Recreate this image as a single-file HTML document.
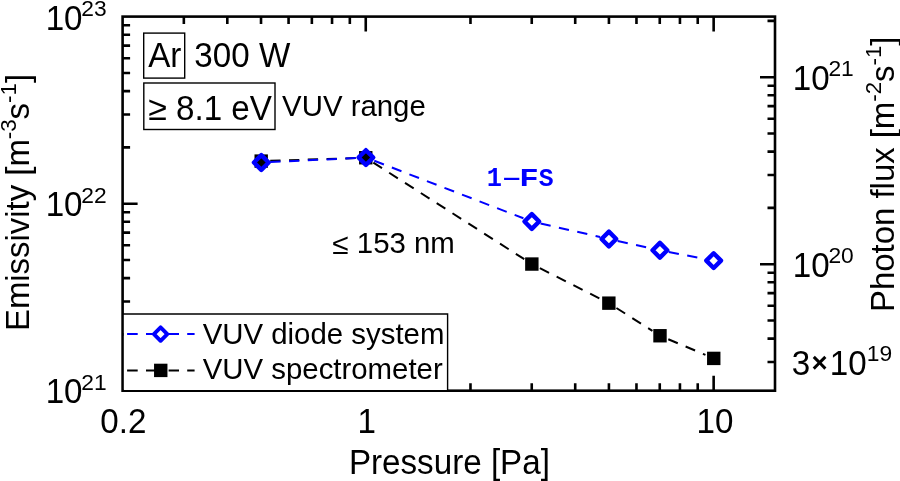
<!DOCTYPE html>
<html><head><meta charset="utf-8"><title>Emissivity vs Pressure</title>
<style>html,body{margin:0;padding:0;background:#fff;}svg{display:block;}text{font-variant-ligatures:none;font-kerning:none;}</style></head>
<body><svg width="900" height="481" viewBox="0 0 900 481">
<rect width="900" height="481" fill="#fff"/>
<path d="M365.75 390.70V375.70M365.75 16.60V31.60M713.65 390.70V375.70M713.65 16.60V31.60M183.84 390.70V383.20M183.84 16.60V24.10M227.31 390.70V383.20M227.31 16.60V24.10M261.02 390.70V383.20M261.02 16.60V24.10M288.57 390.70V383.20M288.57 16.60V24.10M311.86 390.70V383.20M311.86 16.60V24.10M332.04 390.70V383.20M332.04 16.60V24.10M349.83 390.70V383.20M349.83 16.60V24.10M470.48 390.70V383.20M470.48 16.60V24.10M531.74 390.70V383.20M531.74 16.60V24.10M575.21 390.70V383.20M575.21 16.60V24.10M608.92 390.70V383.20M608.92 16.60V24.10M636.47 390.70V383.20M636.47 16.60V24.10M659.76 390.70V383.20M659.76 16.60V24.10M679.94 390.70V383.20M679.94 16.60V24.10M697.73 390.70V383.20M697.73 16.60V24.10M122.60 203.70H137.60M122.60 334.41H130.10M122.60 301.48H130.10M122.60 278.11H130.10M122.60 259.99H130.10M122.60 245.19H130.10M122.60 232.67H130.10M122.60 221.82H130.10M122.60 212.26H130.10M122.60 147.41H130.10M122.60 114.48H130.10M122.60 91.11H130.10M122.60 72.99H130.10M122.60 58.19H130.10M122.60 45.67H130.10M122.60 34.82H130.10M122.60 25.26H130.10M775.00 264.20H760.00M775.00 77.20H760.00M775.00 361.98H767.50M775.00 338.61H767.50M775.00 320.49H767.50M775.00 305.69H767.50M775.00 293.17H767.50M775.00 282.32H767.50M775.00 272.76H767.50M775.00 207.91H767.50M775.00 174.98H767.50M775.00 151.61H767.50M775.00 133.49H767.50M775.00 118.69H767.50M775.00 106.17H767.50M775.00 95.32H767.50M775.00 85.76H767.50M775.00 20.91H767.50" stroke="#000" stroke-width="2.6" fill="none"/>
<rect x="122.60" y="16.60" width="652.40" height="374.10" stroke="#000" stroke-width="2.6" fill="none"/>
<path d="M270.20 160.81L356.75 158.04" fill="none" stroke="#000" stroke-width="2.0" stroke-dasharray="10.3 8.5"/>
<path d="M373.33 162.60L524.27 259.20" fill="none" stroke="#000" stroke-width="2.0" stroke-dasharray="10.3 8.5"/>
<path d="M539.87 268.12L600.83 299.08" fill="none" stroke="#000" stroke-width="2.0" stroke-dasharray="10.3 8.5"/>
<path d="M616.44 307.99L652.41 330.91" fill="none" stroke="#000" stroke-width="2.0" stroke-dasharray="10.3 8.5"/>
<path d="M668.29 339.24L705.46 354.91" fill="none" stroke="#000" stroke-width="2.0" stroke-dasharray="10.3 8.5"/>
<rect x="254.50" y="154.40" width="13.4" height="13.4" fill="#000"/>
<rect x="359.05" y="151.05" width="13.4" height="13.4" fill="#000"/>
<rect x="525.15" y="257.35" width="13.4" height="13.4" fill="#000"/>
<rect x="602.15" y="296.45" width="13.4" height="13.4" fill="#000"/>
<rect x="653.30" y="329.05" width="13.4" height="13.4" fill="#000"/>
<rect x="707.05" y="351.70" width="13.4" height="13.4" fill="#000"/>
<path d="M270.29 162.07L356.91 157.98" fill="none" stroke="#0000ff" stroke-width="2.0" stroke-dasharray="10.3 8.5"/>
<path d="M374.30 160.79L523.40 218.26" fill="none" stroke="#0000ff" stroke-width="2.0" stroke-dasharray="10.3 8.5"/>
<path d="M540.58 223.49L600.12 237.01" fill="none" stroke="#0000ff" stroke-width="2.0" stroke-dasharray="10.3 8.5"/>
<path d="M617.69 240.94L651.11 248.31" fill="none" stroke="#0000ff" stroke-width="2.0" stroke-dasharray="10.3 8.5"/>
<path d="M668.74 251.95L704.81 258.90" fill="none" stroke="#0000ff" stroke-width="2.0" stroke-dasharray="10.3 8.5"/>
<path d="M261.30 155.15L268.65 162.50L261.30 169.85L253.95 162.50Z" fill="none" stroke="#0000ff" stroke-width="4.4" stroke-linejoin="round"/>
<path d="M365.90 150.20L373.25 157.55L365.90 164.90L358.55 157.55Z" fill="none" stroke="#0000ff" stroke-width="4.4" stroke-linejoin="round"/>
<path d="M531.80 214.15L539.15 221.50L531.80 228.85L524.45 221.50Z" fill="none" stroke="#0000ff" stroke-width="4.4" stroke-linejoin="round"/>
<path d="M608.90 231.65L616.25 239.00L608.90 246.35L601.55 239.00Z" fill="none" stroke="#0000ff" stroke-width="4.4" stroke-linejoin="round"/>
<path d="M659.90 242.90L667.25 250.25L659.90 257.60L652.55 250.25Z" fill="none" stroke="#0000ff" stroke-width="4.4" stroke-linejoin="round"/>
<path d="M713.65 253.25L721.00 260.60L713.65 267.95L706.30 260.60Z" fill="none" stroke="#0000ff" stroke-width="4.4" stroke-linejoin="round"/>
<rect x="143.7" y="33.1" width="41" height="45" fill="none" stroke="#000" stroke-width="1.4"/>
<rect x="143.8" y="83.0" width="131.2" height="46.5" fill="none" stroke="#000" stroke-width="1.4"/>
<rect x="123.90" y="314.0" width="323.70" height="76.60" fill="#fff" stroke="none"/>
<path d="M122.60 314.0H447.6V390.6H122.60" fill="none" stroke="#000" stroke-width="1.4"/>
<path d="M127.1 334.1H137.7M146 334.1H179M187.2 334.1H194.6" stroke="#0000ff" stroke-width="2.0"/>
<path d="M160.60 327.40L167.30 334.10L160.60 340.80L153.90 334.10Z" fill="#fff" stroke="#0000ff" stroke-width="3.9" stroke-linejoin="round"/>
<path d="M127.1 370.4H137.7M146 370.4H155M168.6 370.4H179M187.2 370.4H194.6" stroke="#000" stroke-width="2.0"/>
<rect x="154.05" y="363.70" width="13.4" height="13.4" fill="#000"/>
<text transform="translate(202.67,343.50) scale(1,1.03)" font-family="'Liberation Sans', Arial, sans-serif" font-size="29.4" fill="#000">VUV diode system</text>
<text transform="translate(202.67,379.40) scale(1,1.03)" font-family="'Liberation Sans', Arial, sans-serif" font-size="29.4" fill="#000">VUV spectrometer</text>
<text font-family="'Liberation Sans', Arial, sans-serif" fill="#000"><tspan x="45.67" y="29.50" font-size="34.20" textLength="36.93" lengthAdjust="spacingAndGlyphs">10</tspan><tspan x="81.35" y="16.20" font-size="22.80" textLength="25.36" lengthAdjust="spacingAndGlyphs">23</tspan></text>
<text font-family="'Liberation Sans', Arial, sans-serif" fill="#000"><tspan x="45.67" y="216.20" font-size="34.20" textLength="36.93" lengthAdjust="spacingAndGlyphs">10</tspan><tspan x="81.35" y="202.90" font-size="22.80" textLength="25.36" lengthAdjust="spacingAndGlyphs">22</tspan></text>
<text font-family="'Liberation Sans', Arial, sans-serif" fill="#000"><tspan x="45.67" y="403.20" font-size="34.20" textLength="36.93" lengthAdjust="spacingAndGlyphs">10</tspan><tspan x="81.35" y="389.90" font-size="22.80" textLength="25.36" lengthAdjust="spacingAndGlyphs">21</tspan></text>
<text font-family="'Liberation Sans', Arial, sans-serif" fill="#000"><tspan x="792.77" y="89.70" font-size="34.20" textLength="36.93" lengthAdjust="spacingAndGlyphs">10</tspan><tspan x="828.45" y="76.40" font-size="22.80" textLength="25.36" lengthAdjust="spacingAndGlyphs">21</tspan></text>
<text font-family="'Liberation Sans', Arial, sans-serif" fill="#000"><tspan x="792.77" y="276.60" font-size="34.20" textLength="36.93" lengthAdjust="spacingAndGlyphs">10</tspan><tspan x="828.45" y="263.30" font-size="22.80" textLength="25.36" lengthAdjust="spacingAndGlyphs">20</tspan></text>
<text font-family="'Liberation Sans', Arial, sans-serif" fill="#000"><tspan x="791.84" y="374.70" font-size="34.20" textLength="18.46" lengthAdjust="spacingAndGlyphs">3</tspan><tspan x="811.64" y="372.13" font-size="27.15" font-weight="bold" textLength="16.12" lengthAdjust="spacingAndGlyphs">×</tspan><tspan x="829.69" y="374.70" font-size="34.20" textLength="36.93" lengthAdjust="spacingAndGlyphs">10</tspan><tspan x="866.85" y="361.40" font-size="22.80" textLength="25.36" lengthAdjust="spacingAndGlyphs">19</tspan></text>
<text transform="translate(100.20,433.20) scale(1,1.03)" font-family="'Liberation Sans', Arial, sans-serif" font-size="33.2" fill="#000">0.2</text>
<text transform="translate(357.57,433.10) scale(1,1.03)" font-family="'Liberation Sans', Arial, sans-serif" font-size="33.2" fill="#000">1</text>
<text transform="translate(696.57,433.10) scale(1,1.03)" font-family="'Liberation Sans', Arial, sans-serif" font-size="33.2" fill="#000">10</text>
<text transform="translate(348.88,474.40) scale(1,1.03)" font-family="'Liberation Sans', Arial, sans-serif" font-size="33.2" fill="#000">Pressure [Pa]</text>
<text transform="translate(148.24,66.60) scale(1,1.03)" font-family="'Liberation Sans', Arial, sans-serif" font-size="33.2" fill="#000">Ar</text>
<text transform="translate(194.34,66.60) scale(1,1.03)" font-family="'Liberation Sans', Arial, sans-serif" font-size="33.2" fill="#000">300 W</text>
<text font-family="'Liberation Sans', Arial, sans-serif" fill="#000"><tspan x="148.22" y="119.50" font-size="34.11" textLength="18.64" lengthAdjust="spacingAndGlyphs">≥</tspan> <tspan x="175.99" y="119.70" font-size="34.20" textLength="95.98" lengthAdjust="spacingAndGlyphs">8.1 eV</tspan></text>
<text transform="translate(282.07,116.30) scale(1,1.03)" font-family="'Liberation Sans', Arial, sans-serif" font-size="29.4" fill="#000">VUV range</text>
<text font-family="'Liberation Sans', Arial, sans-serif" fill="#000"><tspan x="332.38" y="253.70" font-size="29.11" textLength="16.35" lengthAdjust="spacingAndGlyphs">≤</tspan> <tspan x="356.80" y="253.40" font-size="30.28" textLength="98.06" lengthAdjust="spacingAndGlyphs">153 nm</tspan></text>
<text font-family="'Liberation Mono', 'Courier New', monospace" font-weight="bold" fill="#0000ff"><tspan x="486.80" y="186.30" font-size="28.24" textLength="15.18" lengthAdjust="spacingAndGlyphs">1</tspan><tspan x="495.55" y="183.99" font-size="18.47" textLength="32.42" lengthAdjust="spacingAndGlyphs">-</tspan><tspan x="519.25" y="185.70" font-size="25.05" textLength="19.50" lengthAdjust="spacingAndGlyphs">F</tspan><tspan x="538.84" y="185.75" font-size="25.78" textLength="14.83" lengthAdjust="spacingAndGlyphs">S</tspan></text>
<text transform="translate(28.80,331.00) rotate(-90) scale(1,1.03)" font-family="'Liberation Sans', Arial, sans-serif" font-size="32.9" fill="#000"><tspan font-size="32.9" dy="0">Emissivity [m</tspan><tspan font-size="22.3" dy="-12.912621359223301">-3</tspan><tspan font-size="32.9" dy="12.912621359223301">s</tspan><tspan font-size="22.3" dy="-12.912621359223301">-1</tspan><tspan font-size="32.9" dy="12.912621359223301">]</tspan></text>
<text transform="translate(893.90,311.90) rotate(-90) scale(1,1.03)" font-family="'Liberation Sans', Arial, sans-serif" font-size="32.9" fill="#000"><tspan font-size="32.9" dy="0">Photon flux [m</tspan><tspan font-size="22.3" dy="-12.912621359223301">-2</tspan><tspan font-size="32.9" dy="12.912621359223301">s</tspan><tspan font-size="22.3" dy="-12.912621359223301">-1</tspan><tspan font-size="32.9" dy="12.912621359223301">]</tspan></text>
</svg></body></html>
